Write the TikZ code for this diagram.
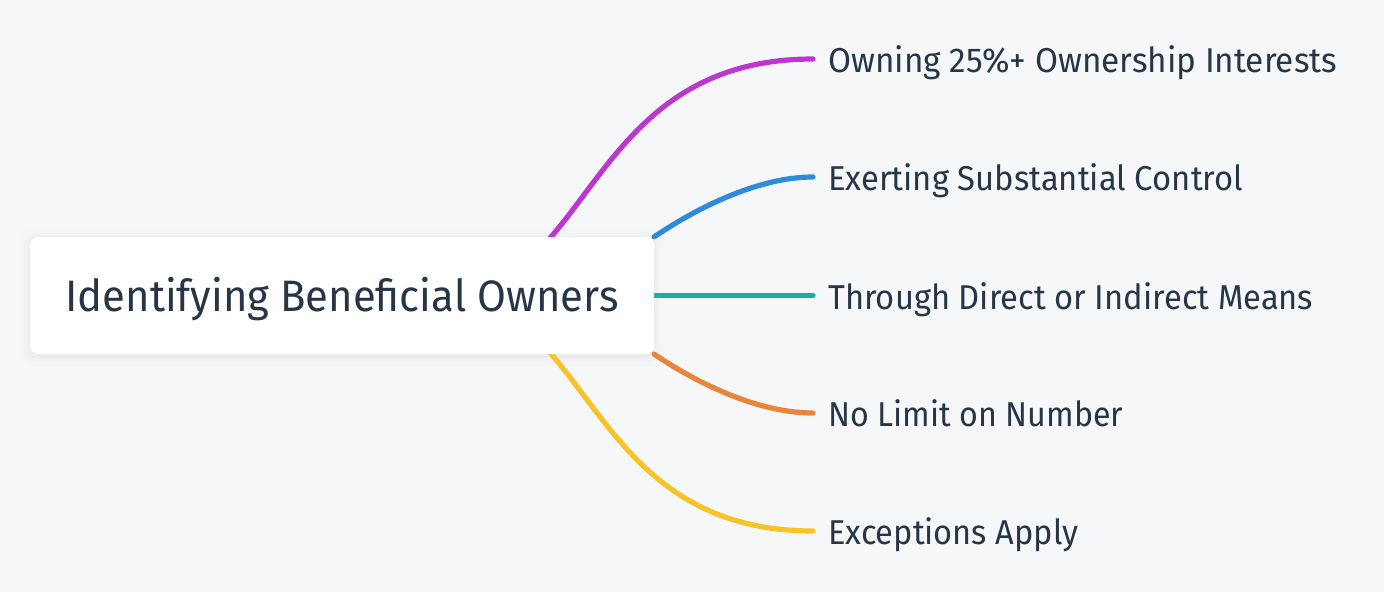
\documentclass[tikz,border=0pt]{standalone}
\usepackage{fontspec}
\usepackage{graphicx}
\setmainfont{Fira Sans}
\usetikzlibrary{backgrounds}
\definecolor{bgc}{HTML}{F6F7F9}
\definecolor{ink}{HTML}{263646}
\definecolor{cpurple}{HTML}{BD36D0}
\definecolor{cblue}{HTML}{2E8ADA}
\definecolor{cteal}{HTML}{1AAE9B}
\definecolor{corange}{HTML}{E8853B}
\definecolor{cyellow}{HTML}{F6C428}
\newlength\fitlen
\newcommand\fitw[2]{\settowidth\fitlen{#2}\pgfmathsetmacro\fitratio{#1/\fitlen}\scalebox{\fitratio}[1]{#2}}
\begin{document}
\begin{tikzpicture}[x=1pt,y=-1pt,
  branch/.style={line width=5.2pt,line cap=round},
  leaf/.style={anchor=west,inner xsep=15pt,inner ysep=0pt,text height=27pt,text depth=0pt,
    text=ink,font=\fontsize{34.5}{34.5}\selectfont},
  rootbox/.style={fill=white,rounded corners=8pt,minimum width=624pt,minimum height=117pt,
    inner sep=0pt,text height=31pt,text depth=0pt,text=ink,font=\fontsize{44}{44}\selectfont}]
\useasboundingbox (0,0) rectangle (1384,592);
\coordinate (h1) at (440,295.5);
\node[rootbox] (root) at (342,295.5) {\fitw{553}{Identifying Beneficial Owners}};
\node[leaf] (l1) at (813,59) {\fitw{509}{Owning 25\%+ Ownership Interests}};
\node[leaf] (l2) at (813,177) {\fitw{415}{Exerting Substantial Control}};
\node[leaf] (l3) at (813,295.5) {\fitw{485}{Through Direct or Indirect Means}};
\node[leaf] (l4) at (813,413) {\fitw{295}{No Limit on Number}};
\node[leaf] (l5) at (813,531) {\fitw{250}{Exceptions Apply}};
\begin{scope}[on background layer]
  \fill[bgc] (0,0) rectangle (1384,592);
  \foreach \s/\o in {1/0.015,3/0.012,6/0.01,10/0.008}
    \fill[black,opacity=\o,rounded corners=12pt] (30-\s,237-\s+2) rectangle (654+\s,354+\s+2);
  \draw[branch,cpurple] (h1) .. controls +(153,0) and +(-231,0) .. (l1.west);
  \draw[branch,cblue] (root.north east) .. controls +(46,-31) and +(-53,0) .. (l2.west);
  \draw[branch,cteal] (root.east) -- (l3.west);
  \draw[branch,corange] (root.south east) .. controls +(46,31) and +(-53,0) .. (l4.west);
  \draw[branch,cyellow] (h1) .. controls +(153,0) and +(-231,0) .. (l5.west);
\end{scope}
\end{tikzpicture}
\end{document}
